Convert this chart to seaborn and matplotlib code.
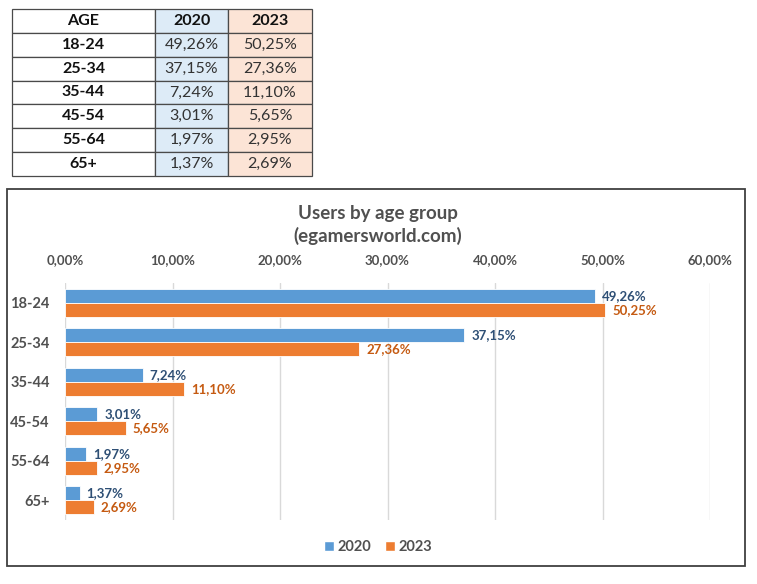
import pandas as pd
import matplotlib.pyplot as plt
import seaborn as sns
from matplotlib.patches import Rectangle, Patch

# data
ages = ['18-24', '25-34', '35-44', '45-54', '55-64', '65+']
users_2020 = [49.26, 37.15, 7.24, 3.01, 1.97, 1.37]
users_2023 = [50.25, 27.36, 11.10, 5.65, 2.95, 2.69]
years = ['2020', '2023']
x_ticks = [0, 10, 20, 30, 40, 50, 60]

colors = ['#5B9BD5', '#ED7D31']
label_colors = ['#2E4F75', '#C55A11']
fills = ['#DDEBF7', '#FCE4D6']
gray = '#505050'


def pct(v):
    return f"{v:.2f}%".replace('.', ',')


df = pd.DataFrame({
    'age': ages * 2,
    'year': [years[0]] * len(ages) + [years[1]] * len(ages),
    'share': users_2020 + users_2023,
})

sns.set_theme(style='white')
plt.rcParams['font.family'] = ['Lato', 'DejaVu Sans']
plt.rcParams['font.weight'] = 'bold'

W, H = 757, 584
fig = plt.figure(figsize=(W / 100, H / 100), dpi=100)

# -----------------------------
# table on top
# -----------------------------
tax = fig.add_axes([12 / W, 1 - 176 / H, 300 / W, 167 / H])
tax.axis('off')
cells = [[a, pct(u), pct(v)] for a, u, v in zip(ages, users_2020, users_2023)]
tbl = tax.table(cellText=cells, colLabels=['AGE'] + years, bbox=[0, 0, 1, 1],
                colWidths=[143, 73, 84], cellLoc='center')
tbl.auto_set_font_size(False)
for (r, c), cell in tbl.get_celld().items():
    cell.set_edgecolor('#4a4a4a')
    cell.set_linewidth(0.9)
    cell.get_text().set_fontsize(11.5)
    cell.get_text().set_color('#111111')
    if c > 0:
        cell.set_facecolor(fills[c - 1])
    if r > 0 and c > 0:
        cell.get_text().set_fontweight('normal')
        cell.get_text().set_color('#333333')

# -----------------------------
# bar chart
# -----------------------------
ax = fig.add_axes([65 / W, 1 - 520 / H, 645 / W, 237 / H])
sns.barplot(data=df, y='age', x='share', hue='year', palette=colors, orient='h',
            width=0.72, saturation=1, edgecolor='white', linewidth=0.6, ax=ax)
ax.legend_.remove()

for cont, col in zip(ax.containers, label_colors):
    ax.bar_label(cont, labels=[pct(b.get_width()) for b in cont], padding=5,
                 color=col, fontsize=9.5, fontweight='bold')

ax.set_xlim(0, 60)
ax.set_xticks(x_ticks)
ax.set_xticklabels([pct(t) for t in x_ticks])
ax.xaxis.tick_top()
ax.set_xlabel('')
ax.set_ylabel('')
ax.grid(axis='x', color='#D9D9D9', linewidth=1)
ax.set_axisbelow(True)
for s in ax.spines.values():
    s.set_visible(False)
ax.tick_params(axis='x', length=0, pad=12, labelsize=9.5, labelcolor=gray)
ax.tick_params(axis='y', length=0, pad=11, labelsize=10.5, labelcolor=gray)

fig.text(378 / W, 1 - 225 / H, 'Users by age group\n(egamersworld.com)', ha='center',
         va='center', fontsize=13.5, fontweight='bold', color=gray, linespacing=1.35)

handles = [Patch(facecolor=c, label=y) for c, y in zip(colors, years)]
fig.legend(handles=handles, loc='center', bbox_to_anchor=(378 / W, 1 - 547 / H), ncol=2,
           frameon=False, handlelength=0.7, handleheight=0.7, handletextpad=0.25,
           columnspacing=0.9, prop={'weight': 'bold', 'size': 10.5}, labelcolor=gray)

fig.add_artist(Rectangle((7 / W, 1 - 566 / H), 738 / W, 377 / H, transform=fig.transFigure,
                         fill=False, edgecolor='#404040', linewidth=1.3))

fig.savefig('out.png', dpi=100)
